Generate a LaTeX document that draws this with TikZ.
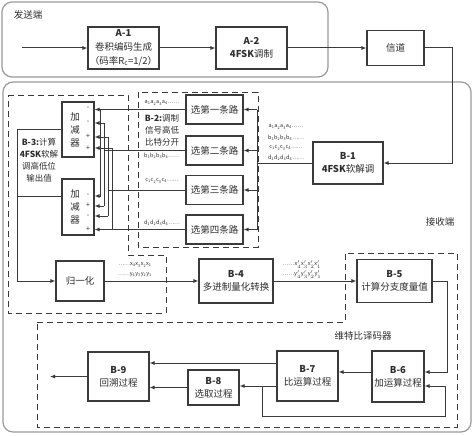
\documentclass[tikz,border=0pt]{standalone}
\usepackage{fontspec}
\setmainfont{Noto Sans CJK SC}
\usetikzlibrary{arrows.meta}
\definecolor{lc}{HTML}{3A3A3A}
\definecolor{tc}{HTML}{2E2E2E}
\definecolor{oc}{HTML}{9A9A9A}
\begin{document}
\begin{tikzpicture}[x=1pt,y=-1pt,
 box/.style={draw=lc,line width=1.1pt,fill=white,align=center,inner sep=1pt,font=\fontsize{9.5}{13}\selectfont,text=tc},
 arr/.style={draw=lc,line width=1pt,-{Latex[length=5pt,width=4pt]}},
 wire/.style={draw=lc,line width=1pt},
 dbox/.style={draw=lc,line width=1pt,dash pattern=on 6pt off 4pt},
 obox/.style={draw=oc,line width=1.2pt,rounded corners=10pt},
 lab/.style={text=tc,font=\fontsize{9.5}{12.5}\selectfont,align=center,inner sep=0pt},
 sub/.style={text=tc,font=\fontsize{5.5}{6}\selectfont,inner sep=0pt},
 sgn/.style={text=tc,font=\fontsize{7}{7}\selectfont,inner sep=0pt},
]
\useasboundingbox (0,0) rectangle (474,436);
% outer boxes
\draw[obox] (2,2) rectangle (328,77);
\draw[obox] (3,82) rectangle (471,432);
% dashed groups
\draw[dbox] (138,92) rectangle (258,247);
\draw[dbox] (8,95) -- (128,95) -- (128,255) -- (166,255) -- (166,313) -- (8,313) -- cycle;
\draw[dbox] (37,322) -- (345,322) -- (345,253) -- (457,253) -- (457,427) -- (37,427) -- cycle;
% texts
\node[lab] (tsend) at (28,15) {发送端};
\node[lab] (trecv) at (440,222) {接收端};
\node[lab] (tvit) at (363,336) {维特比译码器};
\node[lab,font=\fontsize{8.5}{12}\selectfont] (tb3) at (39,160) {{\bfseries B-3:}计算\\{\bfseries 4FSK}软解\\调高低位\\输出值};
\node[lab,font=\fontsize{8.5}{12}\selectfont] (tb2) at (162,130) {{\bfseries B-2:}调制\\信号高低\\比特分开};
% boxes
\node[box,minimum width=71pt,minimum height=42pt,font=\fontsize{9.5}{14}\selectfont] (a1) at (123.5,48) {{\bfseries A-1}\\卷积编码生成\\（码率R\textsubscript{c}=1/2）};
\node[box,minimum width=71pt,minimum height=42pt] (a2) at (251.5,48) {{\bfseries A-2}\\{\bfseries 4FSK}调制};
\node[box,minimum width=57pt,minimum height=35pt] (ch) at (395.5,48) {信道};
\node[box,minimum width=70pt,minimum height=42pt] (b1) at (348,163) {{\bfseries B-1}\\{\bfseries 4FSK}软解调};
\node[box,minimum width=57pt,minimum height=29pt] (s1) at (214.5,109.5) {选第一条路};
\node[box,minimum width=57pt,minimum height=29pt] (s2) at (214.5,150.5) {选第二条路};
\node[box,minimum width=57pt,minimum height=29pt] (s3) at (214.5,190) {选第三条路};
\node[box,minimum width=57pt,minimum height=29pt] (s4) at (214.5,229.5) {选第四条路};
\node[box,minimum width=32pt,minimum height=55pt] (ad1) at (78,129.5) {};
\node[box,minimum width=32pt,minimum height=56pt] (ad2) at (78,207) {};
\node[lab,font=\fontsize{9.5}{13}\selectfont] (ad1t) at (75,130) {加\\减\\器};
\node[lab,font=\fontsize{9.5}{13}\selectfont] (ad2t) at (75,207) {加\\减\\器};
\node[box,minimum width=48pt,minimum height=40pt] (nm) at (80,281) {归一化};
\node[box,minimum width=74pt,minimum height=44pt] (b4) at (236,281) {{\bfseries B-4}\\多进制量化转换};
\node[box,minimum width=75pt,minimum height=43pt] (b5) at (394.5,281) {{\bfseries B-5}\\计算分支度量值};
\node[box,minimum width=52pt,minimum height=51pt] (b6) at (398,376.5) {{\bfseries B-6}\\加运算过程};
\node[box,minimum width=61pt,minimum height=50pt] (b7) at (307.5,376) {{\bfseries B-7}\\比运算过程};
\node[box,minimum width=51pt,minimum height=35pt] (b8) at (213.5,387.5) {{\bfseries B-8}\\选取过程};
\node[box,minimum width=61pt,minimum height=49pt] (b9) at (118.5,376.5) {{\bfseries B-9}\\回溯过程};
% adder signs
\node[sgn] (g11) at (88,108.5) {-};
\node[sgn] (g12) at (88,122) {-};
\node[sgn] (g13) at (88,136.5) {+};
\node[sgn] (g14) at (88,148) {+};
\node[sgn] (g21) at (88,195.5) {-};
\node[sgn] (g22) at (88,205.5) {+};
\node[sgn] (g23) at (88,216) {-};
\node[sgn] (g24) at (88,229.5) {+};
% small labels
\node[sub] (la) at (286,127) {a\textsubscript{1}a\textsubscript{2}a\textsubscript{3}a\textsubscript{4}……};
\node[sub] (lb) at (286,138) {b\textsubscript{1}b\textsubscript{2}b\textsubscript{3}b\textsubscript{4}……};
\node[sub] (lc) at (286,148) {c\textsubscript{1}c\textsubscript{2}c\textsubscript{3}c\textsubscript{4}……};
\node[sub] (ld) at (286,158) {d\textsubscript{1}d\textsubscript{2}d\textsubscript{3}d\textsubscript{4}……};
\node[sub] (la2) at (162,103) {a\textsubscript{1}a\textsubscript{2}a\textsubscript{3}a\textsubscript{4}……};
\node[sub] (lb2) at (162,156) {b\textsubscript{1}b\textsubscript{2}b\textsubscript{3}b\textsubscript{4}……};
\node[sub] (lc2) at (162,181) {c\textsubscript{1}c\textsubscript{2}c\textsubscript{3}c\textsubscript{4}……};
\node[sub] (ld2) at (162,223) {d\textsubscript{1}d\textsubscript{2}d\textsubscript{3}d\textsubscript{4}……};
\node[sub] (lx) at (135,265) {……x\textsubscript{4}x\textsubscript{3}x\textsubscript{2}x\textsubscript{1}};
\node[sub] (ly) at (135,275) {……y\textsubscript{4}y\textsubscript{3}y\textsubscript{2}y\textsubscript{1}};
\node[sub] (lx2) at (302,265) {……x$'_4$x$'_3$x$'_2$x$'_1$};
\node[sub] (ly2) at (302,275) {……y$'_4$y$'_3$y$'_2$y$'_1$};
% sender chain
\coordinate (in) at (22,48);
\draw[arr] (in) -- (a1);
\draw[arr] (a1) -- (a2);
\draw[arr] (a2) -- (ch);
\coordinate (cr) at (452,48);
\draw[arr] (ch.east) -- (cr) -- (cr |- b1.east) -- (b1.east);
% bus to selectors
\coordinate (bus) at (257,163);
\coordinate (bt) at (257,109.5);
\coordinate (bb) at (257,229.5);
\draw[wire] (b1.west) -- (bus);
\draw[wire] (bt) -- (bb);
\draw[arr] (bt) -- (s1.east);
\draw[arr] (bus |- s2.east) -- (s2.east);
\draw[arr] (bus |- s3.east) -- (s3.east);
\draw[arr] (bb) -- (s4.east);
% a
\coordinate (ja) at (100,109.5); \coordinate (ja2) at (100,196);
\draw[arr] (s1.west) -- (s1.west -| ad1.east);
\draw[arr] (ja) -- (ja2) -- (ja2 -| ad2.east);
% b
\coordinate (jb) at (104,150.5); \coordinate (jb1) at (104,123); \coordinate (jb2) at (104,206);
\draw[wire] (s2.west) -- (jb);
\draw[wire] (jb1) -- (jb2);
\draw[arr] (jb1) -- (jb1 -| ad1.east);
\draw[arr] (jb2) -- (jb2 -| ad2.east);
% c
\coordinate (jc) at (108,190); \coordinate (jc1) at (108,137); \coordinate (jc2) at (108,216);
\draw[wire] (s3.west) -- (jc);
\draw[wire] (jc1) -- (jc2);
\draw[arr] (jc1) -- (jc1 -| ad1.east);
\draw[arr] (jc2) -- (jc2 -| ad2.east);
% d
\coordinate (jd) at (112,229.5); \coordinate (jd1) at (112,148);
\draw[arr] (s4.west) -- (s4.west -| ad2.east);
\draw[arr] (jd) -- (jd1) -- (jd1 -| ad1.east);
% adder outputs
\coordinate (o1) at (17,129.5); \coordinate (o2) at (17,196);
\draw[wire] (ad1.west) -- (o1);
\draw[wire] (o2 -| ad2.west) -- (o2);
\draw[arr] (o1) -- (o1 |- nm.west) -- (nm.west);
% lower chain
\draw[arr] (nm) -- (b4);
\draw[arr] (b4) -- (b5);
\coordinate (r5) at (447,281); \coordinate (r6) at (447,372);
\draw[arr] (b5.east) -- (r5) -- (r6) -- (r6 -| b6.east);
\draw[arr] (r6 -| b6.west) -- (r6 -| b7.east);
\coordinate (k) at (262,386);
\draw[arr] (k -| b7.west) -- (k -| b8.east);
\coordinate (k2) at (262,416); \coordinate (k3) at (445,416); \coordinate (k4) at (445,386);
\draw[arr] (k) -- (k2) -- (k3) -- (k4) -- (k4 -| b6.east);
\coordinate (u) at (200,363);
\draw[arr] (u -| b7.west) -- (u -| b9.east);
\draw[arr] (b8.west) -- (b8.west -| b9.east);
\coordinate (out) at (50,376.5);
\draw[arr] (b9.west) -- (out);
\end{tikzpicture}
\end{document}
